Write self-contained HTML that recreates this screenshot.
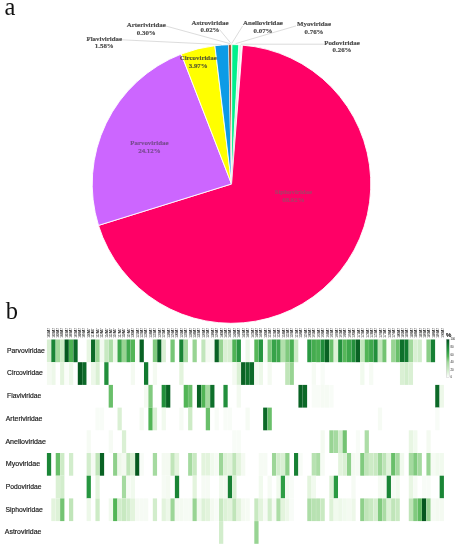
<!DOCTYPE html>
<html lang="en"><head><meta charset="utf-8"><title>Virome composition</title>
<style>
html,body{margin:0;padding:0;background:#fff;}
svg{display:block}
.pl text{font-family:"Liberation Serif",serif;font-weight:bold;font-size:6.9px;text-anchor:middle;stroke-width:0.18px;paint-order:stroke}
.rl text{font-family:"Liberation Sans",sans-serif;font-size:7.3px;fill:#1a1a1a;stroke:#1a1a1a;stroke-width:0.18px}
.cl text{font-family:"Liberation Sans",sans-serif;font-size:3.05px;fill:#111}
.cb text{font-family:"Liberation Sans",sans-serif;font-size:2.8px;fill:#111}
.pan{font-family:"Liberation Serif",serif;font-size:24.5px;fill:#111}
</style></head>
<body>
<svg width="459" height="550" viewBox="0 0 459 550">
<defs><linearGradient id="g" x1="0" y1="0" x2="0" y2="1">
<stop offset="0" stop-color="#00501f"/><stop offset="0.15" stop-color="#127a30"/><stop offset="0.3" stop-color="#2a9a42"/><stop offset="0.45" stop-color="#52b556"/><stop offset="0.6" stop-color="#a1d99b"/><stop offset="0.8" stop-color="#cdebc6"/><stop offset="1" stop-color="#ffffff"/>
</linearGradient></defs>
<rect width="459" height="550" fill="#fff"/>
<text class="pan" x="4.6" y="14.6">a</text>
<text class="pan" x="5.8" y="319.4">b</text>
<g stroke="#c4c4c4" stroke-width="0.6" fill="none"><line x1="121.8" y1="39.8" x2="221.5" y2="44.6"/><line x1="165.4" y1="25.9" x2="229.9" y2="43.6"/><line x1="219.4" y1="29.4" x2="231.0" y2="43.4"/><line x1="242.7" y1="25.9" x2="231.8" y2="43.4"/><line x1="296.0" y1="25.9" x2="235.7" y2="43.6"/><line x1="323.9" y1="44.2" x2="240.6" y2="44.2"/></g>
<g><path d="M231.50 184.00L231.50 44.70A139.3 139.3 0 0 1 232.11 44.70Z" fill="#f79646" stroke="#fff" stroke-width="0.45" stroke-linejoin="round"/><path d="M231.50 184.00L232.11 44.70A139.3 139.3 0 0 1 238.77 44.89Z" fill="#00f08c" stroke="#fff" stroke-width="0.45" stroke-linejoin="round"/><path d="M231.50 184.00L238.77 44.89A139.3 139.3 0 0 1 242.43 45.13Z" fill="#fafafa" stroke="#fff" stroke-width="0.45" stroke-linejoin="round"/><path d="M231.50 184.00L242.43 45.13A139.3 139.3 0 1 1 98.50 225.42Z" fill="#ff0066" stroke="#fff" stroke-width="0.9" stroke-linejoin="round"/><path d="M231.50 184.00L98.50 225.42A139.3 139.3 0 0 1 181.26 54.07Z" fill="#cc66ff" stroke="#fff" stroke-width="0.9" stroke-linejoin="round"/><path d="M231.50 184.00L181.26 54.07A139.3 139.3 0 0 1 214.89 45.69Z" fill="#ffff00" stroke="#fff" stroke-width="0.9" stroke-linejoin="round"/><path d="M231.50 184.00L214.89 45.69A139.3 139.3 0 0 1 228.68 44.73Z" fill="#0c9be6" stroke="#fff" stroke-width="0.9" stroke-linejoin="round"/><path d="M231.50 184.00L228.68 44.73A139.3 139.3 0 0 1 231.31 44.70Z" fill="#9a3a10" stroke="#fff" stroke-width="0.45" stroke-linejoin="round"/><path d="M231.50 184.00L231.31 44.70A139.3 139.3 0 0 1 231.50 44.70Z" fill="#f2a25a" stroke="#fff" stroke-width="0.45" stroke-linejoin="round"/><line x1="231.5" y1="184.0" x2="240.25" y2="44.97" stroke="#cfcfcf" stroke-width="0.5"/></g>
<g class="pl"><text x="104.3" y="40.78" fill="#4d4d4d" stroke="#4d4d4d">Flaviviridae</text><text x="104.3" y="48.28" fill="#4d4d4d" stroke="#4d4d4d">1.58%</text><text x="146.3" y="27.28" fill="#4d4d4d" stroke="#4d4d4d">Arteriviridae</text><text x="146.3" y="34.68" fill="#4d4d4d" stroke="#4d4d4d">0.30%</text><text x="210.0" y="24.98" fill="#4d4d4d" stroke="#4d4d4d">Astroviridae</text><text x="210.0" y="32.18" fill="#4d4d4d" stroke="#4d4d4d">0.02%</text><text x="263.0" y="25.28" fill="#4d4d4d" stroke="#4d4d4d">Anelloviridae</text><text x="263.0" y="32.78" fill="#4d4d4d" stroke="#4d4d4d">0.07%</text><text x="314.0" y="26.28" fill="#4d4d4d" stroke="#4d4d4d">Myoviridae</text><text x="314.0" y="34.28" fill="#4d4d4d" stroke="#4d4d4d">0.76%</text><text x="342.0" y="44.78" fill="#4d4d4d" stroke="#4d4d4d">Podoviridae</text><text x="342.0" y="52.28" fill="#4d4d4d" stroke="#4d4d4d">0.26%</text><text x="198.2" y="60.48" fill="#5c5c2e" stroke="#5c5c2e">Circoviridae</text><text x="198.2" y="68.08" fill="#5c5c2e" stroke="#5c5c2e">3.97%</text><text x="149.4" y="145.48" fill="#7a4b92" stroke="#7a4b92">Parvoviridae</text><text x="149.4" y="152.88" fill="#7a4b92" stroke="#7a4b92">24.12%</text><text x="293.4" y="194.08" fill="#b03a68" stroke="#b03a68">Siphoviridae</text><text x="293.4" y="201.88" fill="#b03a68" stroke="#b03a68">68.92%</text></g>
<g><rect x="46.90" y="339.50" width="4.26" height="22.70" fill="#d8efd2"/><rect x="51.31" y="339.50" width="4.26" height="22.70" fill="#1a8536"/><rect x="55.73" y="339.50" width="4.26" height="22.70" fill="#a3d99d"/><rect x="60.14" y="339.50" width="4.26" height="22.70" fill="#cdebc6"/><rect x="64.55" y="339.50" width="4.26" height="22.70" fill="#05581f"/><rect x="68.97" y="339.50" width="4.26" height="22.70" fill="#4db153"/><rect x="73.38" y="339.50" width="4.26" height="22.70" fill="#0c6928"/><rect x="86.62" y="339.50" width="4.26" height="22.70" fill="#e8f6e3"/><rect x="91.03" y="339.50" width="4.26" height="22.70" fill="#0c6928"/><rect x="95.44" y="339.50" width="4.26" height="22.70" fill="#98d493"/><rect x="99.86" y="339.50" width="4.26" height="22.70" fill="#f4faf1"/><rect x="104.27" y="339.50" width="4.26" height="22.70" fill="#c8e9c1"/><rect x="108.68" y="339.50" width="4.26" height="22.70" fill="#abdca5"/><rect x="113.09" y="339.50" width="4.26" height="22.70" fill="#edf8e9"/><rect x="117.51" y="339.50" width="4.26" height="22.70" fill="#3fa84d"/><rect x="121.92" y="339.50" width="4.26" height="22.70" fill="#98d493"/><rect x="126.33" y="339.50" width="4.26" height="22.70" fill="#3fa84d"/><rect x="130.75" y="339.50" width="4.26" height="22.70" fill="#52b556"/><rect x="135.16" y="339.50" width="4.26" height="22.70" fill="#f8fcf7"/><rect x="139.57" y="339.50" width="4.26" height="22.70" fill="#096224"/><rect x="152.81" y="339.50" width="4.26" height="22.70" fill="#81ca7f"/><rect x="157.22" y="339.50" width="4.26" height="22.70" fill="#096224"/><rect x="161.64" y="339.50" width="4.26" height="22.70" fill="#daf0d4"/><rect x="170.46" y="339.50" width="4.26" height="22.70" fill="#77c677"/><rect x="179.29" y="339.50" width="4.26" height="22.70" fill="#1a8536"/><rect x="183.70" y="339.50" width="4.26" height="22.70" fill="#a8dba2"/><rect x="192.53" y="339.50" width="4.26" height="22.70" fill="#98d493"/><rect x="201.36" y="339.50" width="4.26" height="22.70" fill="#c2e6bc"/><rect x="205.77" y="339.50" width="4.26" height="22.70" fill="#f4faf1"/><rect x="210.18" y="339.50" width="4.26" height="22.70" fill="#f6fbf4"/><rect x="214.59" y="339.50" width="4.26" height="22.70" fill="#096224"/><rect x="219.01" y="339.50" width="4.26" height="22.70" fill="#98d493"/><rect x="223.42" y="339.50" width="4.26" height="22.70" fill="#daf0d4"/><rect x="227.83" y="339.50" width="4.26" height="22.70" fill="#d8efd2"/><rect x="232.25" y="339.50" width="4.26" height="22.70" fill="#4fb355"/><rect x="236.66" y="339.50" width="4.26" height="22.70" fill="#279640"/><rect x="245.49" y="339.50" width="4.26" height="22.70" fill="#edf8e9"/><rect x="254.31" y="339.50" width="4.26" height="22.70" fill="#57b75a"/><rect x="258.72" y="339.50" width="4.26" height="22.70" fill="#279640"/><rect x="263.14" y="339.50" width="4.26" height="22.70" fill="#f4faf1"/><rect x="267.55" y="339.50" width="4.26" height="22.70" fill="#81ca7f"/><rect x="271.96" y="339.50" width="4.26" height="22.70" fill="#37a349"/><rect x="276.38" y="339.50" width="4.26" height="22.70" fill="#3fa84d"/><rect x="280.79" y="339.50" width="4.26" height="22.70" fill="#b2e0ac"/><rect x="285.20" y="339.50" width="4.26" height="22.70" fill="#81ca7f"/><rect x="289.62" y="339.50" width="4.26" height="22.70" fill="#4ab052"/><rect x="294.03" y="339.50" width="4.26" height="22.70" fill="#cdebc6"/><rect x="307.27" y="339.50" width="4.26" height="22.70" fill="#2a9a42"/><rect x="311.68" y="339.50" width="4.26" height="22.70" fill="#45ac4f"/><rect x="316.09" y="339.50" width="4.26" height="22.70" fill="#4ab052"/><rect x="320.51" y="339.50" width="4.26" height="22.70" fill="#208d3b"/><rect x="324.92" y="339.50" width="4.26" height="22.70" fill="#096224"/><rect x="329.33" y="339.50" width="4.26" height="22.70" fill="#69bf6a"/><rect x="333.75" y="339.50" width="4.26" height="22.70" fill="#ddf2d7"/><rect x="338.16" y="339.50" width="4.26" height="22.70" fill="#24913d"/><rect x="342.57" y="339.50" width="4.26" height="22.70" fill="#57b75a"/><rect x="346.98" y="339.50" width="4.26" height="22.70" fill="#3da74b"/><rect x="351.40" y="339.50" width="4.26" height="22.70" fill="#24913d"/><rect x="355.81" y="339.50" width="4.26" height="22.70" fill="#096224"/><rect x="360.22" y="339.50" width="4.26" height="22.70" fill="#c2e6bc"/><rect x="364.64" y="339.50" width="4.26" height="22.70" fill="#52b556"/><rect x="369.05" y="339.50" width="4.26" height="22.70" fill="#3fa84d"/><rect x="373.46" y="339.50" width="4.26" height="22.70" fill="#228f3c"/><rect x="377.88" y="339.50" width="4.26" height="22.70" fill="#c2e6bc"/><rect x="382.29" y="339.50" width="4.26" height="22.70" fill="#73c372"/><rect x="386.70" y="339.50" width="4.26" height="22.70" fill="#fafdf9"/><rect x="391.11" y="339.50" width="4.26" height="22.70" fill="#98d493"/><rect x="395.53" y="339.50" width="4.26" height="22.70" fill="#69bf6a"/><rect x="399.94" y="339.50" width="4.26" height="22.70" fill="#0e702b"/><rect x="404.35" y="339.50" width="4.26" height="22.70" fill="#127a30"/><rect x="408.77" y="339.50" width="4.26" height="22.70" fill="#a3d99d"/><rect x="413.18" y="339.50" width="4.26" height="22.70" fill="#daf0d4"/><rect x="417.59" y="339.50" width="4.26" height="22.70" fill="#d2edcc"/><rect x="426.42" y="339.50" width="4.26" height="22.70" fill="#8ace87"/><rect x="430.83" y="339.50" width="4.26" height="22.70" fill="#178034"/><rect x="46.90" y="362.20" width="4.26" height="22.70" fill="#f4faf1"/><rect x="51.31" y="362.20" width="4.26" height="22.70" fill="#edf8e9"/><rect x="60.14" y="362.20" width="4.26" height="22.70" fill="#e3f4dd"/><rect x="64.55" y="362.20" width="4.26" height="22.70" fill="#fafdf9"/><rect x="68.97" y="362.20" width="4.26" height="22.70" fill="#edf8e9"/><rect x="77.79" y="362.20" width="4.26" height="22.70" fill="#05581f"/><rect x="82.20" y="362.20" width="4.26" height="22.70" fill="#0c6928"/><rect x="91.03" y="362.20" width="4.26" height="22.70" fill="#edf8e9"/><rect x="95.44" y="362.20" width="4.26" height="22.70" fill="#daf0d4"/><rect x="104.27" y="362.20" width="4.26" height="22.70" fill="#228f3c"/><rect x="130.75" y="362.20" width="4.26" height="22.70" fill="#f4faf1"/><rect x="143.99" y="362.20" width="4.26" height="22.70" fill="#127a30"/><rect x="152.81" y="362.20" width="4.26" height="22.70" fill="#f4faf1"/><rect x="179.29" y="362.20" width="4.26" height="22.70" fill="#e3f4dd"/><rect x="232.25" y="362.20" width="4.26" height="22.70" fill="#f4faf1"/><rect x="236.66" y="362.20" width="4.26" height="22.70" fill="#daf0d4"/><rect x="241.07" y="362.20" width="4.26" height="22.70" fill="#096224"/><rect x="245.49" y="362.20" width="4.26" height="22.70" fill="#0e702b"/><rect x="249.90" y="362.20" width="4.26" height="22.70" fill="#0c6928"/><rect x="254.31" y="362.20" width="4.26" height="22.70" fill="#f4faf1"/><rect x="258.72" y="362.20" width="4.26" height="22.70" fill="#edf8e9"/><rect x="267.55" y="362.20" width="4.26" height="22.70" fill="#f4faf1"/><rect x="285.20" y="362.20" width="4.26" height="22.70" fill="#c0e5b9"/><rect x="289.62" y="362.20" width="4.26" height="22.70" fill="#98d493"/><rect x="311.68" y="362.20" width="4.26" height="22.70" fill="#f6fbf4"/><rect x="320.51" y="362.20" width="4.26" height="22.70" fill="#f8fcf7"/><rect x="360.22" y="362.20" width="4.26" height="22.70" fill="#f1faee"/><rect x="369.05" y="362.20" width="4.26" height="22.70" fill="#f6fbf4"/><rect x="399.94" y="362.20" width="4.26" height="22.70" fill="#daf0d4"/><rect x="404.35" y="362.20" width="4.26" height="22.70" fill="#d2edcc"/><rect x="408.77" y="362.20" width="4.26" height="22.70" fill="#daf0d4"/><rect x="108.68" y="384.90" width="4.26" height="22.70" fill="#69bf6a"/><rect x="143.99" y="384.90" width="4.26" height="22.70" fill="#f4faf1"/><rect x="148.40" y="384.90" width="4.26" height="22.70" fill="#81ca7f"/><rect x="161.64" y="384.90" width="4.26" height="22.70" fill="#228f3c"/><rect x="166.05" y="384.90" width="4.26" height="22.70" fill="#096224"/><rect x="183.70" y="384.90" width="4.26" height="22.70" fill="#52b556"/><rect x="188.12" y="384.90" width="4.26" height="22.70" fill="#69bf6a"/><rect x="196.94" y="384.90" width="4.26" height="22.70" fill="#096224"/><rect x="201.36" y="384.90" width="4.26" height="22.70" fill="#52b556"/><rect x="205.77" y="384.90" width="4.26" height="22.70" fill="#a5daa0"/><rect x="210.18" y="384.90" width="4.26" height="22.70" fill="#0e702b"/><rect x="223.42" y="384.90" width="4.26" height="22.70" fill="#228f3c"/><rect x="236.66" y="384.90" width="4.26" height="22.70" fill="#f4faf1"/><rect x="298.44" y="384.90" width="4.26" height="22.70" fill="#096224"/><rect x="302.85" y="384.90" width="4.26" height="22.70" fill="#0c6928"/><rect x="311.68" y="384.90" width="4.26" height="22.70" fill="#f8fcf7"/><rect x="316.09" y="384.90" width="4.26" height="22.70" fill="#f8fcf7"/><rect x="320.51" y="384.90" width="4.26" height="22.70" fill="#f6fbf4"/><rect x="324.92" y="384.90" width="4.26" height="22.70" fill="#f6fbf4"/><rect x="329.33" y="384.90" width="4.26" height="22.70" fill="#f8fcf7"/><rect x="435.24" y="384.90" width="4.26" height="22.70" fill="#0c6928"/><rect x="439.66" y="384.90" width="4.26" height="22.70" fill="#edf8e9"/><rect x="95.44" y="407.60" width="4.26" height="22.70" fill="#f8fcf7"/><rect x="99.86" y="407.60" width="4.26" height="22.70" fill="#f8fcf7"/><rect x="117.51" y="407.60" width="4.26" height="22.70" fill="#daf0d4"/><rect x="139.57" y="407.60" width="4.26" height="22.70" fill="#f4faf1"/><rect x="148.40" y="407.60" width="4.26" height="22.70" fill="#52b556"/><rect x="152.81" y="407.60" width="4.26" height="22.70" fill="#daf0d4"/><rect x="161.64" y="407.60" width="4.26" height="22.70" fill="#f1faee"/><rect x="179.29" y="407.60" width="4.26" height="22.70" fill="#f6fbf4"/><rect x="188.12" y="407.60" width="4.26" height="22.70" fill="#cdebc6"/><rect x="205.77" y="407.60" width="4.26" height="22.70" fill="#69bf6a"/><rect x="214.59" y="407.60" width="4.26" height="22.70" fill="#f8fcf7"/><rect x="223.42" y="407.60" width="4.26" height="22.70" fill="#f8fcf7"/><rect x="227.83" y="407.60" width="4.26" height="22.70" fill="#f8fcf7"/><rect x="245.49" y="407.60" width="4.26" height="22.70" fill="#f6fbf4"/><rect x="263.14" y="407.60" width="4.26" height="22.70" fill="#0c6928"/><rect x="267.55" y="407.60" width="4.26" height="22.70" fill="#69bf6a"/><rect x="377.88" y="407.60" width="4.26" height="22.70" fill="#f6fbf4"/><rect x="435.24" y="407.60" width="4.26" height="22.70" fill="#f8fcf7"/><rect x="86.62" y="430.30" width="4.26" height="22.70" fill="#f6fbf4"/><rect x="108.68" y="430.30" width="4.26" height="22.70" fill="#f6fbf4"/><rect x="121.92" y="430.30" width="4.26" height="22.70" fill="#daf0d4"/><rect x="232.25" y="430.30" width="4.26" height="22.70" fill="#f8fcf7"/><rect x="236.66" y="430.30" width="4.26" height="22.70" fill="#f8fcf7"/><rect x="320.51" y="430.30" width="4.26" height="22.70" fill="#f4faf1"/><rect x="329.33" y="430.30" width="4.26" height="22.70" fill="#98d493"/><rect x="333.75" y="430.30" width="4.26" height="22.70" fill="#a5daa0"/><rect x="338.16" y="430.30" width="4.26" height="22.70" fill="#d2edcc"/><rect x="342.57" y="430.30" width="4.26" height="22.70" fill="#73c372"/><rect x="355.81" y="430.30" width="4.26" height="22.70" fill="#f8fcf7"/><rect x="364.64" y="430.30" width="4.26" height="22.70" fill="#addda7"/><rect x="408.77" y="430.30" width="4.26" height="22.70" fill="#e8f6e3"/><rect x="413.18" y="430.30" width="4.26" height="22.70" fill="#f1faee"/><rect x="426.42" y="430.30" width="4.26" height="22.70" fill="#f4faf1"/><rect x="46.90" y="453.00" width="4.26" height="22.70" fill="#1a8536"/><rect x="55.73" y="453.00" width="4.26" height="22.70" fill="#69bf6a"/><rect x="60.14" y="453.00" width="4.26" height="22.70" fill="#cdebc6"/><rect x="68.97" y="453.00" width="4.26" height="22.70" fill="#d2edcc"/><rect x="86.62" y="453.00" width="4.26" height="22.70" fill="#d2edcc"/><rect x="91.03" y="453.00" width="4.26" height="22.70" fill="#f6fbf4"/><rect x="95.44" y="453.00" width="4.26" height="22.70" fill="#c0e5b9"/><rect x="99.86" y="453.00" width="4.26" height="22.70" fill="#096224"/><rect x="113.09" y="453.00" width="4.26" height="22.70" fill="#8fd08b"/><rect x="117.51" y="453.00" width="4.26" height="22.70" fill="#edf8e9"/><rect x="121.92" y="453.00" width="4.26" height="22.70" fill="#f4faf1"/><rect x="126.33" y="453.00" width="4.26" height="22.70" fill="#c0e5b9"/><rect x="130.75" y="453.00" width="4.26" height="22.70" fill="#daf0d4"/><rect x="135.16" y="453.00" width="4.26" height="22.70" fill="#05581f"/><rect x="139.57" y="453.00" width="4.26" height="22.70" fill="#f8fcf7"/><rect x="152.81" y="453.00" width="4.26" height="22.70" fill="#a5daa0"/><rect x="161.64" y="453.00" width="4.26" height="22.70" fill="#f4faf1"/><rect x="166.05" y="453.00" width="4.26" height="22.70" fill="#f4faf1"/><rect x="170.46" y="453.00" width="4.26" height="22.70" fill="#c0e5b9"/><rect x="174.88" y="453.00" width="4.26" height="22.70" fill="#e3f4dd"/><rect x="188.12" y="453.00" width="4.26" height="22.70" fill="#a5daa0"/><rect x="192.53" y="453.00" width="4.26" height="22.70" fill="#c8e9c1"/><rect x="201.36" y="453.00" width="4.26" height="22.70" fill="#e3f4dd"/><rect x="205.77" y="453.00" width="4.26" height="22.70" fill="#e3f4dd"/><rect x="210.18" y="453.00" width="4.26" height="22.70" fill="#f1faee"/><rect x="214.59" y="453.00" width="4.26" height="22.70" fill="#f6fbf4"/><rect x="219.01" y="453.00" width="4.26" height="22.70" fill="#9dd698"/><rect x="223.42" y="453.00" width="4.26" height="22.70" fill="#ddf2d7"/><rect x="227.83" y="453.00" width="4.26" height="22.70" fill="#e3f4dd"/><rect x="232.25" y="453.00" width="4.26" height="22.70" fill="#c0e5b9"/><rect x="236.66" y="453.00" width="4.26" height="22.70" fill="#e3f4dd"/><rect x="241.07" y="453.00" width="4.26" height="22.70" fill="#f4faf1"/><rect x="258.72" y="453.00" width="4.26" height="22.70" fill="#f6fbf4"/><rect x="263.14" y="453.00" width="4.26" height="22.70" fill="#f6fbf4"/><rect x="271.96" y="453.00" width="4.26" height="22.70" fill="#9dd698"/><rect x="276.38" y="453.00" width="4.26" height="22.70" fill="#d2edcc"/><rect x="280.79" y="453.00" width="4.26" height="22.70" fill="#daf0d4"/><rect x="285.20" y="453.00" width="4.26" height="22.70" fill="#8fd08b"/><rect x="294.03" y="453.00" width="4.26" height="22.70" fill="#178034"/><rect x="298.44" y="453.00" width="4.26" height="22.70" fill="#f8fcf7"/><rect x="311.68" y="453.00" width="4.26" height="22.70" fill="#b8e2b2"/><rect x="316.09" y="453.00" width="4.26" height="22.70" fill="#abdca5"/><rect x="320.51" y="453.00" width="4.26" height="22.70" fill="#f6fbf4"/><rect x="338.16" y="453.00" width="4.26" height="22.70" fill="#e3f4dd"/><rect x="342.57" y="453.00" width="4.26" height="22.70" fill="#daf0d4"/><rect x="346.98" y="453.00" width="4.26" height="22.70" fill="#8fd08b"/><rect x="351.40" y="453.00" width="4.26" height="22.70" fill="#f4faf1"/><rect x="355.81" y="453.00" width="4.26" height="22.70" fill="#f6fbf4"/><rect x="360.22" y="453.00" width="4.26" height="22.70" fill="#81ca7f"/><rect x="364.64" y="453.00" width="4.26" height="22.70" fill="#c0e5b9"/><rect x="369.05" y="453.00" width="4.26" height="22.70" fill="#cdebc6"/><rect x="373.46" y="453.00" width="4.26" height="22.70" fill="#c8e9c1"/><rect x="377.88" y="453.00" width="4.26" height="22.70" fill="#9dd698"/><rect x="382.29" y="453.00" width="4.26" height="22.70" fill="#bde4b7"/><rect x="386.70" y="453.00" width="4.26" height="22.70" fill="#e0f3da"/><rect x="391.11" y="453.00" width="4.26" height="22.70" fill="#69bf6a"/><rect x="395.53" y="453.00" width="4.26" height="22.70" fill="#a5daa0"/><rect x="399.94" y="453.00" width="4.26" height="22.70" fill="#f1faee"/><rect x="408.77" y="453.00" width="4.26" height="22.70" fill="#a5daa0"/><rect x="413.18" y="453.00" width="4.26" height="22.70" fill="#81ca7f"/><rect x="417.59" y="453.00" width="4.26" height="22.70" fill="#a5daa0"/><rect x="426.42" y="453.00" width="4.26" height="22.70" fill="#98d493"/><rect x="430.83" y="453.00" width="4.26" height="22.70" fill="#f6fbf4"/><rect x="435.24" y="453.00" width="4.26" height="22.70" fill="#f1faee"/><rect x="439.66" y="453.00" width="4.26" height="22.70" fill="#f1faee"/><rect x="55.73" y="475.70" width="4.26" height="22.70" fill="#daf0d4"/><rect x="60.14" y="475.70" width="4.26" height="22.70" fill="#d2edcc"/><rect x="86.62" y="475.70" width="4.26" height="22.70" fill="#279640"/><rect x="95.44" y="475.70" width="4.26" height="22.70" fill="#e3f4dd"/><rect x="121.92" y="475.70" width="4.26" height="22.70" fill="#a5daa0"/><rect x="126.33" y="475.70" width="4.26" height="22.70" fill="#f6fbf4"/><rect x="130.75" y="475.70" width="4.26" height="22.70" fill="#f1faee"/><rect x="161.64" y="475.70" width="4.26" height="22.70" fill="#f6fbf4"/><rect x="166.05" y="475.70" width="4.26" height="22.70" fill="#f4faf1"/><rect x="174.88" y="475.70" width="4.26" height="22.70" fill="#1a8536"/><rect x="192.53" y="475.70" width="4.26" height="22.70" fill="#e3f4dd"/><rect x="201.36" y="475.70" width="4.26" height="22.70" fill="#f6fbf4"/><rect x="205.77" y="475.70" width="4.26" height="22.70" fill="#f6fbf4"/><rect x="219.01" y="475.70" width="4.26" height="22.70" fill="#f1faee"/><rect x="223.42" y="475.70" width="4.26" height="22.70" fill="#f4faf1"/><rect x="227.83" y="475.70" width="4.26" height="22.70" fill="#178034"/><rect x="232.25" y="475.70" width="4.26" height="22.70" fill="#daf0d4"/><rect x="258.72" y="475.70" width="4.26" height="22.70" fill="#f1faee"/><rect x="267.55" y="475.70" width="4.26" height="22.70" fill="#f6fbf4"/><rect x="276.38" y="475.70" width="4.26" height="22.70" fill="#f1faee"/><rect x="280.79" y="475.70" width="4.26" height="22.70" fill="#2f9e45"/><rect x="285.20" y="475.70" width="4.26" height="22.70" fill="#f4faf1"/><rect x="289.62" y="475.70" width="4.26" height="22.70" fill="#f8fcf7"/><rect x="307.27" y="475.70" width="4.26" height="22.70" fill="#e3f4dd"/><rect x="311.68" y="475.70" width="4.26" height="22.70" fill="#f1faee"/><rect x="329.33" y="475.70" width="4.26" height="22.70" fill="#ddf2d7"/><rect x="333.75" y="475.70" width="4.26" height="22.70" fill="#2a9a42"/><rect x="351.40" y="475.70" width="4.26" height="22.70" fill="#f6fbf4"/><rect x="377.88" y="475.70" width="4.26" height="22.70" fill="#f6fbf4"/><rect x="382.29" y="475.70" width="4.26" height="22.70" fill="#f6fbf4"/><rect x="386.70" y="475.70" width="4.26" height="22.70" fill="#1a8536"/><rect x="391.11" y="475.70" width="4.26" height="22.70" fill="#f6fbf4"/><rect x="395.53" y="475.70" width="4.26" height="22.70" fill="#f1faee"/><rect x="408.77" y="475.70" width="4.26" height="22.70" fill="#e8f6e3"/><rect x="413.18" y="475.70" width="4.26" height="22.70" fill="#f6fbf4"/><rect x="422.00" y="475.70" width="4.26" height="22.70" fill="#f8fcf7"/><rect x="426.42" y="475.70" width="4.26" height="22.70" fill="#f8fcf7"/><rect x="439.66" y="475.70" width="4.26" height="22.70" fill="#1a8536"/><rect x="51.31" y="498.40" width="4.26" height="22.70" fill="#e3f4dd"/><rect x="55.73" y="498.40" width="4.26" height="22.70" fill="#ddf2d7"/><rect x="60.14" y="498.40" width="4.26" height="22.70" fill="#73c372"/><rect x="68.97" y="498.40" width="4.26" height="22.70" fill="#c0e5b9"/><rect x="86.62" y="498.40" width="4.26" height="22.70" fill="#edf8e9"/><rect x="95.44" y="498.40" width="4.26" height="22.70" fill="#cdebc6"/><rect x="108.68" y="498.40" width="4.26" height="22.70" fill="#f1faee"/><rect x="113.09" y="498.40" width="4.26" height="22.70" fill="#52b556"/><rect x="117.51" y="498.40" width="4.26" height="22.70" fill="#d2edcc"/><rect x="121.92" y="498.40" width="4.26" height="22.70" fill="#c8e9c1"/><rect x="126.33" y="498.40" width="4.26" height="22.70" fill="#d2edcc"/><rect x="130.75" y="498.40" width="4.26" height="22.70" fill="#e3f4dd"/><rect x="135.16" y="498.40" width="4.26" height="22.70" fill="#f6fbf4"/><rect x="139.57" y="498.40" width="4.26" height="22.70" fill="#f6fbf4"/><rect x="143.99" y="498.40" width="4.26" height="22.70" fill="#f6fbf4"/><rect x="152.81" y="498.40" width="4.26" height="22.70" fill="#d2edcc"/><rect x="161.64" y="498.40" width="4.26" height="22.70" fill="#e3f4dd"/><rect x="166.05" y="498.40" width="4.26" height="22.70" fill="#edf8e9"/><rect x="170.46" y="498.40" width="4.26" height="22.70" fill="#9dd698"/><rect x="174.88" y="498.40" width="4.26" height="22.70" fill="#f4faf1"/><rect x="179.29" y="498.40" width="4.26" height="22.70" fill="#f4faf1"/><rect x="183.70" y="498.40" width="4.26" height="22.70" fill="#f6fbf4"/><rect x="188.12" y="498.40" width="4.26" height="22.70" fill="#f6fbf4"/><rect x="192.53" y="498.40" width="4.26" height="22.70" fill="#98d493"/><rect x="196.94" y="498.40" width="4.26" height="22.70" fill="#f1faee"/><rect x="201.36" y="498.40" width="4.26" height="22.70" fill="#ddf2d7"/><rect x="205.77" y="498.40" width="4.26" height="22.70" fill="#e3f4dd"/><rect x="210.18" y="498.40" width="4.26" height="22.70" fill="#f4faf1"/><rect x="214.59" y="498.40" width="4.26" height="22.70" fill="#f8fcf7"/><rect x="219.01" y="498.40" width="4.26" height="22.70" fill="#c8e9c1"/><rect x="223.42" y="498.40" width="4.26" height="22.70" fill="#ddf2d7"/><rect x="227.83" y="498.40" width="4.26" height="22.70" fill="#e3f4dd"/><rect x="232.25" y="498.40" width="4.26" height="22.70" fill="#c0e5b9"/><rect x="236.66" y="498.40" width="4.26" height="22.70" fill="#e3f4dd"/><rect x="241.07" y="498.40" width="4.26" height="22.70" fill="#f4faf1"/><rect x="245.49" y="498.40" width="4.26" height="22.70" fill="#f6fbf4"/><rect x="254.31" y="498.40" width="4.26" height="22.70" fill="#c8e9c1"/><rect x="258.72" y="498.40" width="4.26" height="22.70" fill="#e3f4dd"/><rect x="263.14" y="498.40" width="4.26" height="22.70" fill="#f6fbf4"/><rect x="267.55" y="498.40" width="4.26" height="22.70" fill="#d2edcc"/><rect x="271.96" y="498.40" width="4.26" height="22.70" fill="#f6fbf4"/><rect x="276.38" y="498.40" width="4.26" height="22.70" fill="#addda7"/><rect x="280.79" y="498.40" width="4.26" height="22.70" fill="#e3f4dd"/><rect x="285.20" y="498.40" width="4.26" height="22.70" fill="#edf8e9"/><rect x="289.62" y="498.40" width="4.26" height="22.70" fill="#f8fcf7"/><rect x="307.27" y="498.40" width="4.26" height="22.70" fill="#addda7"/><rect x="311.68" y="498.40" width="4.26" height="22.70" fill="#b8e2b2"/><rect x="316.09" y="498.40" width="4.26" height="22.70" fill="#b8e2b2"/><rect x="320.51" y="498.40" width="4.26" height="22.70" fill="#c8e9c1"/><rect x="329.33" y="498.40" width="4.26" height="22.70" fill="#ddf2d7"/><rect x="333.75" y="498.40" width="4.26" height="22.70" fill="#f1faee"/><rect x="338.16" y="498.40" width="4.26" height="22.70" fill="#edf8e9"/><rect x="342.57" y="498.40" width="4.26" height="22.70" fill="#f1faee"/><rect x="346.98" y="498.40" width="4.26" height="22.70" fill="#f4faf1"/><rect x="351.40" y="498.40" width="4.26" height="22.70" fill="#edf8e9"/><rect x="360.22" y="498.40" width="4.26" height="22.70" fill="#8fd08b"/><rect x="364.64" y="498.40" width="4.26" height="22.70" fill="#c0e5b9"/><rect x="369.05" y="498.40" width="4.26" height="22.70" fill="#c8e9c1"/><rect x="373.46" y="498.40" width="4.26" height="22.70" fill="#d5eecf"/><rect x="377.88" y="498.40" width="4.26" height="22.70" fill="#81ca7f"/><rect x="382.29" y="498.40" width="4.26" height="22.70" fill="#abdca5"/><rect x="386.70" y="498.40" width="4.26" height="22.70" fill="#ddf2d7"/><rect x="391.11" y="498.40" width="4.26" height="22.70" fill="#c0e5b9"/><rect x="395.53" y="498.40" width="4.26" height="22.70" fill="#c8e9c1"/><rect x="408.77" y="498.40" width="4.26" height="22.70" fill="#c0e5b9"/><rect x="413.18" y="498.40" width="4.26" height="22.70" fill="#81ca7f"/><rect x="417.59" y="498.40" width="4.26" height="22.70" fill="#60bb62"/><rect x="422.00" y="498.40" width="4.26" height="22.70" fill="#05581f"/><rect x="426.42" y="498.40" width="4.26" height="22.70" fill="#98d493"/><rect x="430.83" y="498.40" width="4.26" height="22.70" fill="#f6fbf4"/><rect x="435.24" y="498.40" width="4.26" height="22.70" fill="#f4faf1"/><rect x="439.66" y="498.40" width="4.26" height="22.70" fill="#f4faf1"/><rect x="219.01" y="521.10" width="4.26" height="22.70" fill="#d2edcc"/><rect x="254.31" y="521.10" width="4.26" height="22.70" fill="#98d493"/></g>
<g class="rl"><text x="7.1" y="352.70" textLength="37.6" lengthAdjust="spacingAndGlyphs">Parvoviridae</text><text x="7.1" y="375.40" textLength="35.7" lengthAdjust="spacingAndGlyphs">Circoviridae</text><text x="7.1" y="398.10" textLength="34.3" lengthAdjust="spacingAndGlyphs">Flaviviridae</text><text x="5.8" y="420.80" textLength="36.6" lengthAdjust="spacingAndGlyphs">Arteriviridae</text><text x="5.4" y="443.50" textLength="40.5" lengthAdjust="spacingAndGlyphs">Anelloviridae</text><text x="5.8" y="466.20" textLength="34.3" lengthAdjust="spacingAndGlyphs">Myoviridae</text><text x="5.8" y="488.90" textLength="35.6" lengthAdjust="spacingAndGlyphs">Podoviridae</text><text x="5.4" y="511.60" textLength="37.4" lengthAdjust="spacingAndGlyphs">Siphoviridae</text><text x="4.8" y="534.30" textLength="36.6" lengthAdjust="spacingAndGlyphs">Astroviridae</text></g>
<g class="cl"><text transform="translate(50.10 337.8) rotate(-90)">101<tspan font-weight="bold" font-size="3.5px">M</tspan>7</text><text transform="translate(54.52 337.8) rotate(-90)">102<tspan font-weight="bold" font-size="3.5px">M</tspan>7</text><text transform="translate(58.95 337.8) rotate(-90)">103<tspan font-weight="bold" font-size="3.5px">M</tspan>7</text><text transform="translate(63.37 337.8) rotate(-90)">104<tspan font-weight="bold" font-size="3.5px">M</tspan>7</text><text transform="translate(67.79 337.8) rotate(-90)">105<tspan font-weight="bold" font-size="3.5px">M</tspan>7</text><text transform="translate(72.22 337.8) rotate(-90)">106<tspan font-weight="bold" font-size="3.5px">M</tspan>7</text><text transform="translate(76.64 337.8) rotate(-90)">107<tspan font-weight="bold" font-size="3.5px">M</tspan>7</text><text transform="translate(81.06 337.8) rotate(-90)">108<tspan font-weight="bold" font-size="3.5px">M</tspan>7</text><text transform="translate(85.48 337.8) rotate(-90)">109<tspan font-weight="bold" font-size="3.5px">M</tspan>7</text><text transform="translate(89.91 337.8) rotate(-90)">110<tspan font-weight="bold" font-size="3.5px">M</tspan>7</text><text transform="translate(94.33 337.8) rotate(-90)">111<tspan font-weight="bold" font-size="3.5px">M</tspan>7</text><text transform="translate(98.75 337.8) rotate(-90)">112<tspan font-weight="bold" font-size="3.5px">M</tspan>7</text><text transform="translate(103.18 337.8) rotate(-90)">113<tspan font-weight="bold" font-size="3.5px">M</tspan>7</text><text transform="translate(107.60 337.8) rotate(-90)">114<tspan font-weight="bold" font-size="3.5px">M</tspan>7</text><text transform="translate(112.02 337.8) rotate(-90)">115<tspan font-weight="bold" font-size="3.5px">M</tspan>7</text><text transform="translate(116.45 337.8) rotate(-90)">116<tspan font-weight="bold" font-size="3.5px">M</tspan>7</text><text transform="translate(120.87 337.8) rotate(-90)">117<tspan font-weight="bold" font-size="3.5px">M</tspan>7</text><text transform="translate(125.29 337.8) rotate(-90)">118<tspan font-weight="bold" font-size="3.5px">M</tspan>7</text><text transform="translate(129.71 337.8) rotate(-90)">119<tspan font-weight="bold" font-size="3.5px">M</tspan>7</text><text transform="translate(134.14 337.8) rotate(-90)">120<tspan font-weight="bold" font-size="3.5px">M</tspan>7</text><text transform="translate(138.56 337.8) rotate(-90)">121<tspan font-weight="bold" font-size="3.5px">M</tspan>7</text><text transform="translate(142.98 337.8) rotate(-90)">122<tspan font-weight="bold" font-size="3.5px">M</tspan>7</text><text transform="translate(147.41 337.8) rotate(-90)">123<tspan font-weight="bold" font-size="3.5px">M</tspan>7</text><text transform="translate(151.83 337.8) rotate(-90)">124<tspan font-weight="bold" font-size="3.5px">M</tspan>7</text><text transform="translate(156.25 337.8) rotate(-90)">125<tspan font-weight="bold" font-size="3.5px">M</tspan>7</text><text transform="translate(160.68 337.8) rotate(-90)">126<tspan font-weight="bold" font-size="3.5px">M</tspan>7</text><text transform="translate(165.10 337.8) rotate(-90)">127<tspan font-weight="bold" font-size="3.5px">M</tspan>7</text><text transform="translate(169.52 337.8) rotate(-90)">128<tspan font-weight="bold" font-size="3.5px">M</tspan>7</text><text transform="translate(173.94 337.8) rotate(-90)">129<tspan font-weight="bold" font-size="3.5px">M</tspan>7</text><text transform="translate(178.37 337.8) rotate(-90)">130<tspan font-weight="bold" font-size="3.5px">M</tspan>7</text><text transform="translate(182.79 337.8) rotate(-90)">131<tspan font-weight="bold" font-size="3.5px">M</tspan>7</text><text transform="translate(187.21 337.8) rotate(-90)">132<tspan font-weight="bold" font-size="3.5px">M</tspan>7</text><text transform="translate(191.64 337.8) rotate(-90)">133<tspan font-weight="bold" font-size="3.5px">M</tspan>7</text><text transform="translate(196.06 337.8) rotate(-90)">134<tspan font-weight="bold" font-size="3.5px">M</tspan>7</text><text transform="translate(200.48 337.8) rotate(-90)">135<tspan font-weight="bold" font-size="3.5px">M</tspan>7</text><text transform="translate(204.91 337.8) rotate(-90)">136<tspan font-weight="bold" font-size="3.5px">M</tspan>7</text><text transform="translate(209.33 337.8) rotate(-90)">137<tspan font-weight="bold" font-size="3.5px">M</tspan>7</text><text transform="translate(213.75 337.8) rotate(-90)">138<tspan font-weight="bold" font-size="3.5px">M</tspan>7</text><text transform="translate(218.17 337.8) rotate(-90)">139<tspan font-weight="bold" font-size="3.5px">M</tspan>7</text><text transform="translate(222.60 337.8) rotate(-90)">140<tspan font-weight="bold" font-size="3.5px">M</tspan>7</text><text transform="translate(227.02 337.8) rotate(-90)">141<tspan font-weight="bold" font-size="3.5px">M</tspan>7</text><text transform="translate(231.44 337.8) rotate(-90)">142<tspan font-weight="bold" font-size="3.5px">M</tspan>7</text><text transform="translate(235.87 337.8) rotate(-90)">143<tspan font-weight="bold" font-size="3.5px">M</tspan>7</text><text transform="translate(240.29 337.8) rotate(-90)">144<tspan font-weight="bold" font-size="3.5px">M</tspan>7</text><text transform="translate(244.71 337.8) rotate(-90)">145<tspan font-weight="bold" font-size="3.5px">M</tspan>7</text><text transform="translate(249.14 337.8) rotate(-90)">146<tspan font-weight="bold" font-size="3.5px">M</tspan>7</text><text transform="translate(253.56 337.8) rotate(-90)">147<tspan font-weight="bold" font-size="3.5px">M</tspan>7</text><text transform="translate(257.98 337.8) rotate(-90)">148<tspan font-weight="bold" font-size="3.5px">M</tspan>7</text><text transform="translate(262.40 337.8) rotate(-90)">149<tspan font-weight="bold" font-size="3.5px">M</tspan>7</text><text transform="translate(266.83 337.8) rotate(-90)">150<tspan font-weight="bold" font-size="3.5px">M</tspan>7</text><text transform="translate(271.25 337.8) rotate(-90)">151<tspan font-weight="bold" font-size="3.5px">M</tspan>7</text><text transform="translate(275.67 337.8) rotate(-90)">152<tspan font-weight="bold" font-size="3.5px">M</tspan>7</text><text transform="translate(280.10 337.8) rotate(-90)">153<tspan font-weight="bold" font-size="3.5px">M</tspan>7</text><text transform="translate(284.52 337.8) rotate(-90)">154<tspan font-weight="bold" font-size="3.5px">M</tspan>7</text><text transform="translate(288.94 337.8) rotate(-90)">155<tspan font-weight="bold" font-size="3.5px">M</tspan>7</text><text transform="translate(293.37 337.8) rotate(-90)">156<tspan font-weight="bold" font-size="3.5px">M</tspan>7</text><text transform="translate(297.79 337.8) rotate(-90)">157<tspan font-weight="bold" font-size="3.5px">M</tspan>7</text><text transform="translate(302.21 337.8) rotate(-90)">158<tspan font-weight="bold" font-size="3.5px">M</tspan>7</text><text transform="translate(306.63 337.8) rotate(-90)">159<tspan font-weight="bold" font-size="3.5px">M</tspan>7</text><text transform="translate(311.06 337.8) rotate(-90)">160<tspan font-weight="bold" font-size="3.5px">M</tspan>7</text><text transform="translate(315.48 337.8) rotate(-90)">161<tspan font-weight="bold" font-size="3.5px">M</tspan>7</text><text transform="translate(319.90 337.8) rotate(-90)">162<tspan font-weight="bold" font-size="3.5px">M</tspan>7</text><text transform="translate(324.33 337.8) rotate(-90)">163<tspan font-weight="bold" font-size="3.5px">M</tspan>7</text><text transform="translate(328.75 337.8) rotate(-90)">164<tspan font-weight="bold" font-size="3.5px">M</tspan>7</text><text transform="translate(333.17 337.8) rotate(-90)">165<tspan font-weight="bold" font-size="3.5px">M</tspan>7</text><text transform="translate(337.59 337.8) rotate(-90)">166<tspan font-weight="bold" font-size="3.5px">M</tspan>7</text><text transform="translate(342.02 337.8) rotate(-90)">167<tspan font-weight="bold" font-size="3.5px">M</tspan>7</text><text transform="translate(346.44 337.8) rotate(-90)">168<tspan font-weight="bold" font-size="3.5px">M</tspan>7</text><text transform="translate(350.86 337.8) rotate(-90)">169<tspan font-weight="bold" font-size="3.5px">M</tspan>7</text><text transform="translate(355.29 337.8) rotate(-90)">170<tspan font-weight="bold" font-size="3.5px">M</tspan>7</text><text transform="translate(359.71 337.8) rotate(-90)">171<tspan font-weight="bold" font-size="3.5px">M</tspan>7</text><text transform="translate(364.13 337.8) rotate(-90)">172<tspan font-weight="bold" font-size="3.5px">M</tspan>7</text><text transform="translate(368.56 337.8) rotate(-90)">173<tspan font-weight="bold" font-size="3.5px">M</tspan>7</text><text transform="translate(372.98 337.8) rotate(-90)">174<tspan font-weight="bold" font-size="3.5px">M</tspan>7</text><text transform="translate(377.40 337.8) rotate(-90)">175<tspan font-weight="bold" font-size="3.5px">M</tspan>7</text><text transform="translate(381.82 337.8) rotate(-90)">176<tspan font-weight="bold" font-size="3.5px">M</tspan>7</text><text transform="translate(386.25 337.8) rotate(-90)">177<tspan font-weight="bold" font-size="3.5px">M</tspan>7</text><text transform="translate(390.67 337.8) rotate(-90)">178<tspan font-weight="bold" font-size="3.5px">M</tspan>7</text><text transform="translate(395.09 337.8) rotate(-90)">179<tspan font-weight="bold" font-size="3.5px">M</tspan>7</text><text transform="translate(399.52 337.8) rotate(-90)">180<tspan font-weight="bold" font-size="3.5px">M</tspan>7</text><text transform="translate(403.94 337.8) rotate(-90)">181<tspan font-weight="bold" font-size="3.5px">M</tspan>7</text><text transform="translate(408.36 337.8) rotate(-90)">182<tspan font-weight="bold" font-size="3.5px">M</tspan>7</text><text transform="translate(412.79 337.8) rotate(-90)">183<tspan font-weight="bold" font-size="3.5px">M</tspan>7</text><text transform="translate(417.21 337.8) rotate(-90)">184<tspan font-weight="bold" font-size="3.5px">M</tspan>7</text><text transform="translate(421.63 337.8) rotate(-90)">185<tspan font-weight="bold" font-size="3.5px">M</tspan>7</text><text transform="translate(426.05 337.8) rotate(-90)">186<tspan font-weight="bold" font-size="3.5px">M</tspan>7</text><text transform="translate(430.48 337.8) rotate(-90)">187<tspan font-weight="bold" font-size="3.5px">M</tspan>7</text><text transform="translate(434.90 337.8) rotate(-90)">188<tspan font-weight="bold" font-size="3.5px">M</tspan>7</text><text transform="translate(439.32 337.8) rotate(-90)">189<tspan font-weight="bold" font-size="3.5px">M</tspan>7</text><text transform="translate(443.75 337.8) rotate(-90)">190<tspan font-weight="bold" font-size="3.5px">M</tspan>7</text></g>
<rect x="446.4" y="339.3" width="2.8" height="38.1" fill="url(#g)" stroke="#9a9a9a" stroke-width="0.25"/>
<g class="cb"><text x="450.5" y="340.30">100</text><text x="450.5" y="347.92">80</text><text x="450.5" y="355.54">60</text><text x="450.5" y="363.16">40</text><text x="450.5" y="370.78">20</text><text x="450.5" y="378.40">0</text><text x="446.0" y="337.3" style="font-size:6px;stroke:#111;stroke-width:0.2px">%</text></g>
</svg>
</body></html>
